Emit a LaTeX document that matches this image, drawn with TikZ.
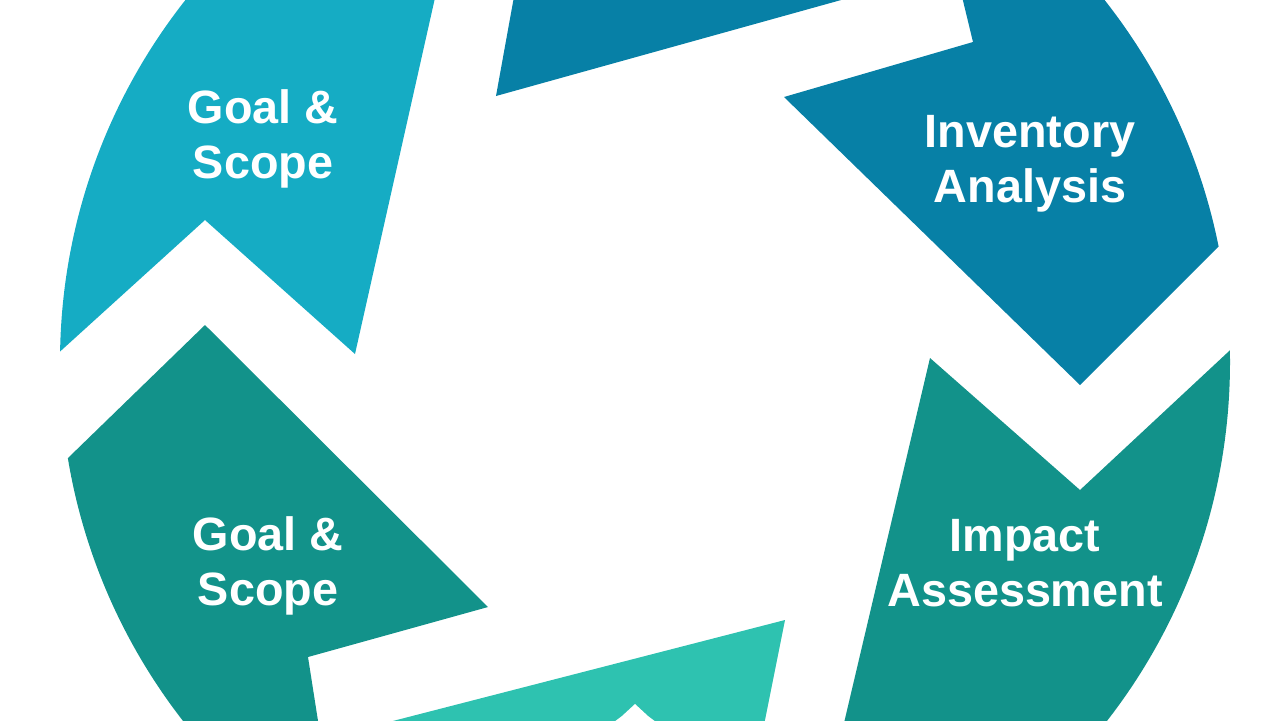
\documentclass[tikz,border=0pt]{standalone}
\usepackage{fontspec}
\setmainfont{Liberation Sans}
\definecolor{deepblue}{HTML}{0780A6}
\definecolor{skyblue}{HTML}{15ACC4}
\definecolor{deepteal}{HTML}{12928A}
\definecolor{lightteal}{HTML}{2EC2B0}
\begin{document}
\begin{tikzpicture}[x=0.1mm, y=-0.1mm, line join=round,
	lbl/.style={text=white, align=center, inner sep=0pt, font=\fontsize{13.3}{15.6}\selectfont\bfseries}]
	\useasboundingbox (0,0) rectangle (1280,720);
	\clip (0,0) rectangle (1280,720);
	\begin{scope}
		\clip (645,362) circle[radius=585];
		\fill[deepblue] (517,-20) -- (496,96) -- (913,-20) -- cycle;
		\fill[deepblue] (958,-20) -- (973,42) -- (784,97) -- (1080,385) -- (1300,165) -- (1300,-20) -- cycle;
		\fill[deepteal] (930,358) -- (1080,490) -- (1300,285) -- (1300,740) -- (840,740) -- cycle;
		\fill[lightteal] (319,740) -- (785,620) -- (761,740) -- cycle;
		\fill[deepteal] (205,325) -- (488,607) -- (308,657) -- (321,740) -- (0,740) -- (0,524) -- cycle;
		\fill[skyblue] (439,-20) -- (355,354) -- (205,220) -- (0,406) -- (0,-20) -- cycle;
		\fill[white] (635,704) -- (622,716) -- (614,722) -- (656,722) -- (648,716) -- cycle;
	\end{scope}
	\node[lbl] (goalup) at (263,139) {Goal \&\\Scope};
	\node[lbl] (invent) at (1030,164) {Inventory\\Analysis};
	\node[lbl] (impact) at (1025,563) {Impact\\Assessment};
	\node[lbl] (goallow) at (268,566) {Goal \&\\Scope};
\end{tikzpicture}
\end{document}
